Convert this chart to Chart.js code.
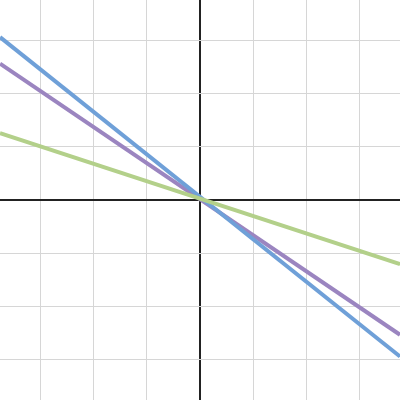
<!DOCTYPE html>
<html>
<head>
<meta charset="utf-8">
<script src="https://cdn.jsdelivr.net/npm/chart.js@4"></script>
<style>
  html, body { margin: 0; padding: 0; background: #fff; }
  #grafica { display: block; }
</style>
</head>
<body>
<canvas id="grafica" width="400" height="400"></canvas>
<script>
// Extremos de la ventana (unidades) y datos
const limite = 3.77;
const extremosX = [-3.77, 3.77];
const lineaAzul = [3.07, -2.95];
const lineaMorada = [2.57, -2.54];
const lineaVerde = [1.26, -1.21];

function puntos(valores) {
  return extremosX.map((x, i) => ({ x: x, y: valores[i] }));
}

function serie(valores, color) {
  return {
    data: puntos(valores),
    showLine: true,
    borderColor: color,
    backgroundColor: color,
    borderWidth: 4,
    pointRadius: 0,
    pointHoverRadius: 0,
  };
}

// Rejilla: solo enteros, eje en 0 en negro
function ejeConfig() {
  return {
    type: "linear",
    min: -limite,
    max: limite,
    afterBuildTicks: function (eje) {
      const ticks = [];
      for (let v = -3; v <= 3; v++) ticks.push({ value: v });
      eje.ticks = ticks;
    },
    ticks: { display: false, stepSize: 1 },
    border: { display: false },
    grid: {
      drawTicks: false,
      color: (ctx) => (ctx.tick && ctx.tick.value === 0 ? "#222222" : "#d6d6d6"),
      lineWidth: (ctx) => (ctx.tick && ctx.tick.value === 0 ? 2 : 1),
    },
  };
}

document.addEventListener("DOMContentLoaded", function () {
  const ctx = document.getElementById("grafica").getContext("2d");
  new Chart(ctx, {
    type: "scatter",
    data: {
      datasets: [
        serie(lineaVerde, "#b3d08a"),
        serie(lineaAzul, "#6fa0d8"),
        serie(lineaMorada, "#9b85c0"),
      ],
    },
    options: {
      responsive: false,
      animation: false,
      layout: { padding: 0, autoPadding: false },
      plugins: {
        legend: { display: false },
        tooltip: { enabled: false },
      },
      scales: {
        x: ejeConfig(),
        y: ejeConfig(),
      },
    },
  });
});
</script>
</body>
</html>
